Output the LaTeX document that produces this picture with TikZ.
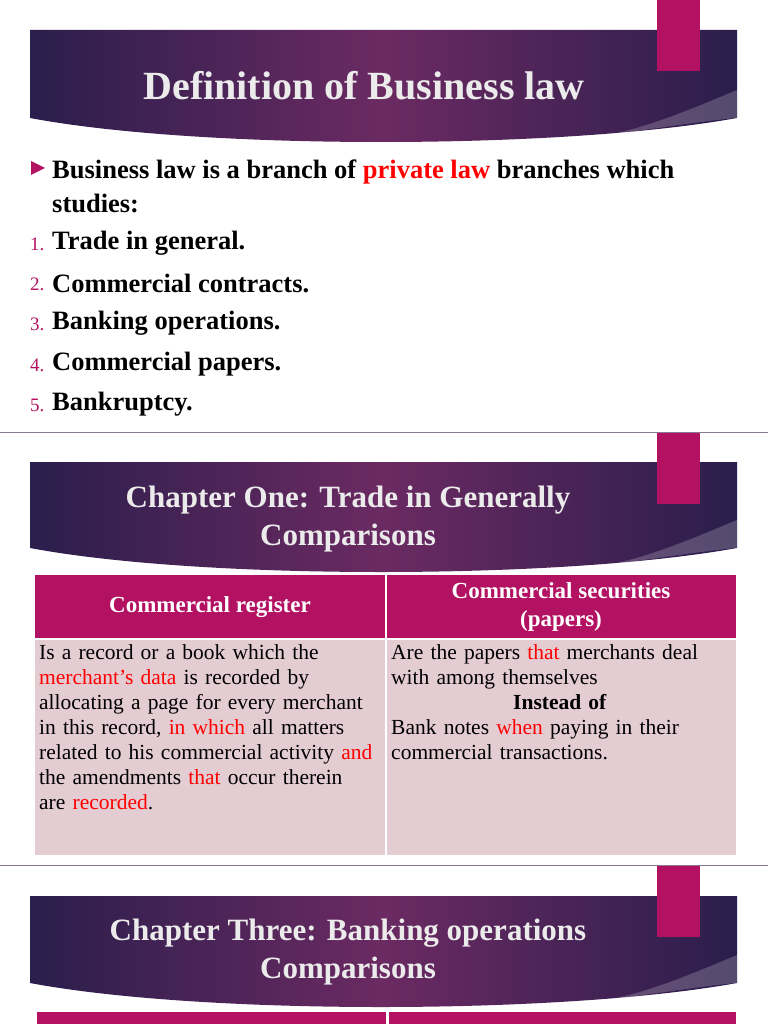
\documentclass[tikz,border=0pt]{standalone}
\usepackage{fontspec}
\setmainfont{Liberation Serif}
\definecolor{mag}{HTML}{B31262}
\definecolor{dk}{HTML}{2A1E4C}
\definecolor{md}{HTML}{6B2A62}
\definecolor{cellbg}{HTML}{E4CCD3}
\definecolor{sep}{HTML}{8A7A96}
\definecolor{rd}{HTML}{FF0000}
\begin{document}
\begin{tikzpicture}[x=1pt,y=-1pt,
  ttl/.style={text=white!92!black,font=\bfseries\fontsize{40}{44}\selectfont,align=center},
  ttlb/.style={text=white!92!black,font=\bfseries\fontsize{31}{38}\selectfont,align=center},
  body/.style={anchor=west,font=\bfseries\fontsize{26.5}{30}\selectfont,inner sep=0},
  num/.style={anchor=west,text=mag,font=\fontsize{19}{22}\selectfont,inner sep=0},
  cell/.style={font=\fontsize{21.5}{25}\selectfont,align=left,anchor=north west,inner sep=0,text width=345},
  hd/.style={text=white,font=\bfseries\fontsize{23}{28}\selectfont,align=center}]
\useasboundingbox (0,0) rectangle (768,1024);
\fill[white] (0,0) rectangle (768,1024);
% banners
\foreach \t/\b/\c in {30/118/142, 462/548/572, 896/983/1007}{
  \shade[left color=dk,right color=dk,middle color=md] (30,\t) -- (737,\t) -- (737,\b) .. controls (560,\c+8) and (200,\c+8) .. (30,\b) -- cycle;
  \fill[white,opacity=0.2] (737,\b-28) .. controls (680,\b-4) and (640,\b+12) .. (600,\b+18) .. controls (660,\b+10) and (710,\b+2) .. (737,\b) -- cycle;
}
\fill[mag] (657,0) rectangle (700,71);
\fill[mag] (657,433) rectangle (700,504);
\fill[mag] (657,866) rectangle (700,937);
\draw[sep,line width=1] (0,432) -- (768,432);
\draw[sep,line width=1] (0,865) -- (768,865);
\node[ttl] (t1) at (364,86) {Definition of Business law};
\node[ttlb] (t2) at (348,519) {Chapter One: Trade in Generally\\Comparisons};
\node[ttlb] (t3) at (348,952) {Chapter Three: Banking operations\\Comparisons};
% bullets
\fill[mag] (31,161) -- (45,168) -- (31,175) -- cycle;
\node[body] (b0) at (52,172) {Business law is a branch of \textcolor{rd}{private law} branches which};
\node[body] (b1) at (52,203) {studies:};
\foreach \n/\y/\s in {1/243/Trade in general.,2/283/Commercial contracts.,3/323/Banking operations.,4/364/Commercial papers.,5/404/Bankruptcy.}{
  \node[num] (n\n) at (30,\y+1) {\n.};
  \node[body] (l\n) at (52,\y) {\s};
}
% table
\fill[mag] (35,575) rectangle (385,638);
\fill[mag] (387,575) rectangle (736,638);
\fill[cellbg] (35,640) rectangle (385,855);
\fill[cellbg] (387,640) rectangle (736,855);
\node[hd] (h1) at (210,607) {Commercial register};
\node[hd] (h2) at (561,607) {Commercial securities\\(papers)};
\node[cell] (c1) at (39,644) {Is a record or a book which the\\\textcolor{rd}{merchant’s data} is recorded by\\allocating a page for every merchant\\in this record, \textcolor{rd}{in which} all matters\\related to his commercial activity \textcolor{rd}{and}\\the amendments \textcolor{rd}{that} occur therein\\are \textcolor{rd}{recorded}.};
\node[cell] (c2) at (391,644) {Are the papers \textcolor{rd}{that} merchants deal\\with among themselves\\\hspace*{122pt}\textbf{Instead of}\\Bank notes \textcolor{rd}{when} paying in their\\commercial transactions.};
\fill[mag] (37,1012) rectangle (386,1024);
\fill[mag] (389,1012) rectangle (736,1024);
\end{tikzpicture}
\end{document}
